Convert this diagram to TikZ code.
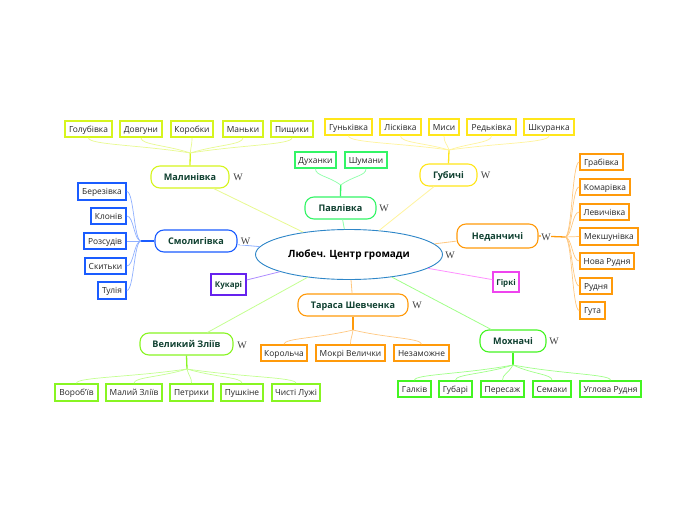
\documentclass[tikz,border=0pt]{standalone}
\usepackage{fontspec}
\setmainfont{Open Sans}
\newfontfamily\wfont{Liberation Serif}
\usetikzlibrary{calc,shapes.geometric}
\definecolor{cmal}{HTML}{D6F51E}\definecolor{lmal}{HTML}{E8FA90}
\definecolor{cgub}{HTML}{FFE61A}\definecolor{lgub}{HTML}{FFF49C}
\definecolor{cpav}{HTML}{33F566}\definecolor{lpav}{HTML}{8CFFA8}
\definecolor{csmo}{HTML}{1A5CFF}\definecolor{lsmo}{HTML}{8FB0FF}
\definecolor{ckuk}{HTML}{6622EE}\definecolor{lkuk}{HTML}{AE8CFF}
\definecolor{cgir}{HTML}{EE44EE}\definecolor{lgir}{HTML}{FF90FF}
\definecolor{cned}{HTML}{FF9A0A}\definecolor{lned}{HTML}{FFC880}
\definecolor{cvel}{HTML}{88F522}\definecolor{lvel}{HTML}{C4FF90}
\definecolor{cmox}{HTML}{44F522}\definecolor{lmox}{HTML}{A0FF88}
\definecolor{ccen}{HTML}{2E86C8}
\definecolor{ttop}{HTML}{0F4030}
\tikzset{
 x=1pt,y=-1pt,
 kid/.style={draw=#1,line width=1.6pt,fill=white,rectangle,inner sep=0pt,text height=6.5pt,text depth=.5pt,text=black!85,font=\fontsize{8.4}{9}\selectfont},
 topic/.style={draw=#1,line width=1.1pt,fill=white,rectangle,rounded corners=9pt,inner sep=0pt,text height=7pt,text depth=.5pt,text=ttop,font=\fontsize{9.1}{10}\selectfont\bfseries},
 leaf/.style={draw=#1,line width=1.5pt,fill=white,rectangle,inner sep=0pt,text height=6.5pt,text depth=.5pt,text=ttop,font=\fontsize{8}{9}\selectfont\bfseries},
 central/.style={draw=ccen,line width=.9pt,fill=white,ellipse,inner sep=0pt,text=black,font=\fontsize{10}{11}\selectfont\bfseries},
 wmark/.style={fill=white,inner sep=.4pt,text=black!75,font=\wfont\fontsize{10}{10}\selectfont},
 branch/.style={draw=#1,line width=.7pt},
 stem/.style={draw=#1,line width=1.3pt},
 link/.style={draw=#1,line width=.8pt},
}
\newcommand{\bx}[8]{\node[#1=#3,minimum width={(#5-#4-2)*1pt},minimum height={(#7-#6-2)*1pt}] (#2) at ({(#4+#5)/2},{(#6+#7)/2}) {#8};}
% child above the junction
\newcommand{\up}[3]{\draw[branch=#1] let \p1=(#2),\p2=(#3.south) in (#2) .. controls ({.5*\x1+.5*\x2},{\y2-7pt}) and (\x2,{\y2-7pt}) .. (#3.south);}
% child below the junction
\newcommand{\dn}[3]{\draw[branch=#1] let \p1=(#2),\p2=(#3.north) in (#2) .. controls ({.5*\x1+.5*\x2},{\y2+6pt}) and (\x2,{\y2+6pt}) .. (#3.north);}
% child to the side of the junction
\newcommand{\sd}[4]{\draw[branch=#1] let \p1=(#2),\p2=(#3.#4) in (#2) .. controls ({.5*\x1+.5*\x2},\y1) and ({.5*\x1+.5*\x2},\y2) .. (#3.#4);}
\begin{document}
\begin{tikzpicture}
\useasboundingbox (0,0) rectangle (697,520);
\fill[white] (0,0) rectangle (697,520);
% central
\node[central,minimum width=187pt,minimum height=50pt] (cen) at (349,254.5) {Любеч. Центр громади};
% topics
\bx{topic}{mal}{cmal}{150}{230}{165}{189}{Малинівка}
\bx{topic}{smo}{csmo}{154}{238}{229}{253}{Смолигівка}
\bx{topic}{pav}{cpav}{304}{377}{196}{220}{Павлівка}
\bx{topic}{gub}{cgub}{419}{478}{163}{187}{Губичі}
\bx{topic}{ned}{cned}{456}{539}{223}{249}{Неданчичі}
\bx{topic}{tar}{cned}{297}{409}{293}{317}{Тараса Шевченка}
\bx{topic}{vel}{cvel}{139}{234}{332}{356}{Великий Зліїв}
\bx{topic}{mox}{cmox}{479}{547}{329}{353}{Мохначі}
\bx{leaf}{kuk}{ckuk}{210}{247}{273}{296}{Кукарі}
\bx{leaf}{gir}{cgir}{492}{520}{271}{293}{Гіркі}
% links from the centre
\draw[link=lmal] (cen) -- (mal);
\draw[link=lsmo] (cen) -- (smo);
\draw[link=lpav] (cen) -- (pav);
\draw[link=lgub] (cen) -- (gub);
\draw[link=lned] (cen) -- (ned);
\draw[link=lned] (cen) -- (tar);
\draw[link=lvel] (cen) -- (vel);
\draw[link=lmox] (cen) -- (mox);
\draw[link=lkuk] (cen) -- (kuk);
\draw[link=lgir] (cen) -- (gir);
% junctions
\coordinate (jmal) at (190.3,153);
\coordinate (jsmo) at (141,241);
\coordinate (jpav) at (340.7,185);
\coordinate (jgub) at (449,150);
\coordinate (jned) at (565,237);
\coordinate (jtar) at (353,330);
\coordinate (jvel) at (187,369);
\coordinate (jmox) at (513,365);
% children
\bx{kid}{a1}{cmal}{64}{113}{120}{138}{Голубівка}
\bx{kid}{a2}{cmal}{119}{163}{120}{138}{Довгуни}
\bx{kid}{a3}{cmal}{170}{214}{120}{138}{Коробки}
\bx{kid}{a4}{cmal}{222}{264}{120}{138}{Маньки}
\bx{kid}{a5}{cmal}{270}{314}{120}{138}{Пищики}
\bx{kid}{b1}{csmo}{77}{127}{182}{201}{Березівка}
\bx{kid}{b2}{csmo}{90}{127}{207}{225}{Клонів}
\bx{kid}{b3}{csmo}{83}{127}{232}{250}{Розсудів}
\bx{kid}{b4}{csmo}{84}{127}{257}{275}{Скитьки}
\bx{kid}{b5}{csmo}{97}{127}{281}{300}{Тулія}
\bx{kid}{c1}{cpav}{294}{337}{151}{169}{Духанки}
\bx{kid}{c2}{cpav}{344}{388}{151}{169}{Шумани}
\bx{kid}{d1}{cgub}{324}{373}{118}{136}{Гуньківка}
\bx{kid}{d2}{cgub}{379}{422}{118}{136}{Ліскiвка}
\bx{kid}{d3}{cgub}{428}{460}{118}{136}{Миси}
\bx{kid}{d4}{cgub}{466}{517}{118}{136}{Редьківка}
\bx{kid}{d5}{cgub}{523}{575}{118}{136}{Шкуранка}
\bx{kid}{e1}{cned}{579}{624}{153}{171}{Грабівка}
\bx{kid}{e2}{cned}{579}{631}{178}{196}{Комарівка}
\bx{kid}{e3}{cned}{579}{630}{203}{221}{Левичівка}
\bx{kid}{e4}{cned}{579}{639}{227}{246}{Мекшунівка}
\bx{kid}{e5}{cned}{579}{635}{252}{270}{Нова Рудня}
\bx{kid}{e6}{cned}{579}{613}{277}{295}{Рудня}
\bx{kid}{e7}{cned}{579}{606}{301}{320}{Гута}
\bx{kid}{f1}{cned}{260}{308}{344}{362}{Корольча}
\bx{kid}{f2}{cned}{315}{386}{344}{362}{Мокрі Велички}
\bx{kid}{f3}{cned}{393}{450}{344}{362}{Незаможне}
\bx{kid}{g1}{cvel}{54}{99}{383}{402}{Вороб'їв}
\bx{kid}{g2}{cvel}{105}{163}{383}{402}{Малий Зліїв}
\bx{kid}{g3}{cvel}{169}{214}{383}{402}{Петрики}
\bx{kid}{g4}{cvel}{220}{264}{383}{402}{Пушкіне}
\bx{kid}{g5}{cvel}{271}{321}{383}{402}{Чисті Лужі}
\bx{kid}{h1}{cmox}{397}{432}{380}{398}{Галків}
\bx{kid}{h2}{cmox}{438}{473}{380}{398}{Губарі}
\bx{kid}{h3}{cmox}{480}{525}{380}{398}{Пересаж}
\bx{kid}{h4}{cmox}{532}{572}{380}{398}{Семаки}
\bx{kid}{h5}{cmox}{579}{642}{380}{398}{Углова Рудня}
% stems
\draw[stem=cmal] (mal.north) -- (jmal);
\draw[stem=csmo] (smo.west) -- (jsmo);
\draw[stem=cpav] (pav.north) -- (jpav);
\draw[stem=cgub] (gub.north) -- (jgub);
\draw[stem=cned] (ned.east) -- (jned);
\draw[stem=cned] (tar.south) -- (jtar);
\draw[stem=cvel] (vel.south) -- (jvel);
\draw[stem=cmox] (mox.south) -- (jmox);
% branches
\foreach \k in {a1,a2,a3,a4,a5}{\up{lmal}{jmal}{\k}}
\foreach \k in {c1,c2}{\up{lpav}{jpav}{\k}}
\foreach \k in {d1,d2,d3,d4,d5}{\up{lgub}{jgub}{\k}}
\foreach \k in {b1,b2,b3,b4,b5}{\sd{lsmo}{jsmo}{\k}{east}}
\foreach \k in {e1,e2,e3,e4,e5,e6,e7}{\sd{lned}{jned}{\k}{west}}
\foreach \k in {f1,f2,f3}{\dn{lned}{jtar}{\k}}
\foreach \k in {g1,g2,g3,g4,g5}{\dn{lvel}{jvel}{\k}}
\foreach \k in {h1,h2,h3,h4,h5}{\dn{lmox}{jmox}{\k}}
% W marks
\node[wmark] (w1) at (238,177.5) {W};
\node[wmark] (w2) at (245.5,241.5) {W};
\node[wmark] (w3) at (384,208.5) {W};
\node[wmark] (w4) at (485.5,175.5) {W};
\node[wmark] (w5) at (546,237) {W};
\node[wmark] (w6) at (450,255) {W};
\node[wmark] (w7) at (417,305.5) {W};
\node[wmark] (w8) at (242,345) {W};
\node[wmark] (w9) at (554,341) {W};
\end{tikzpicture}
\end{document}
